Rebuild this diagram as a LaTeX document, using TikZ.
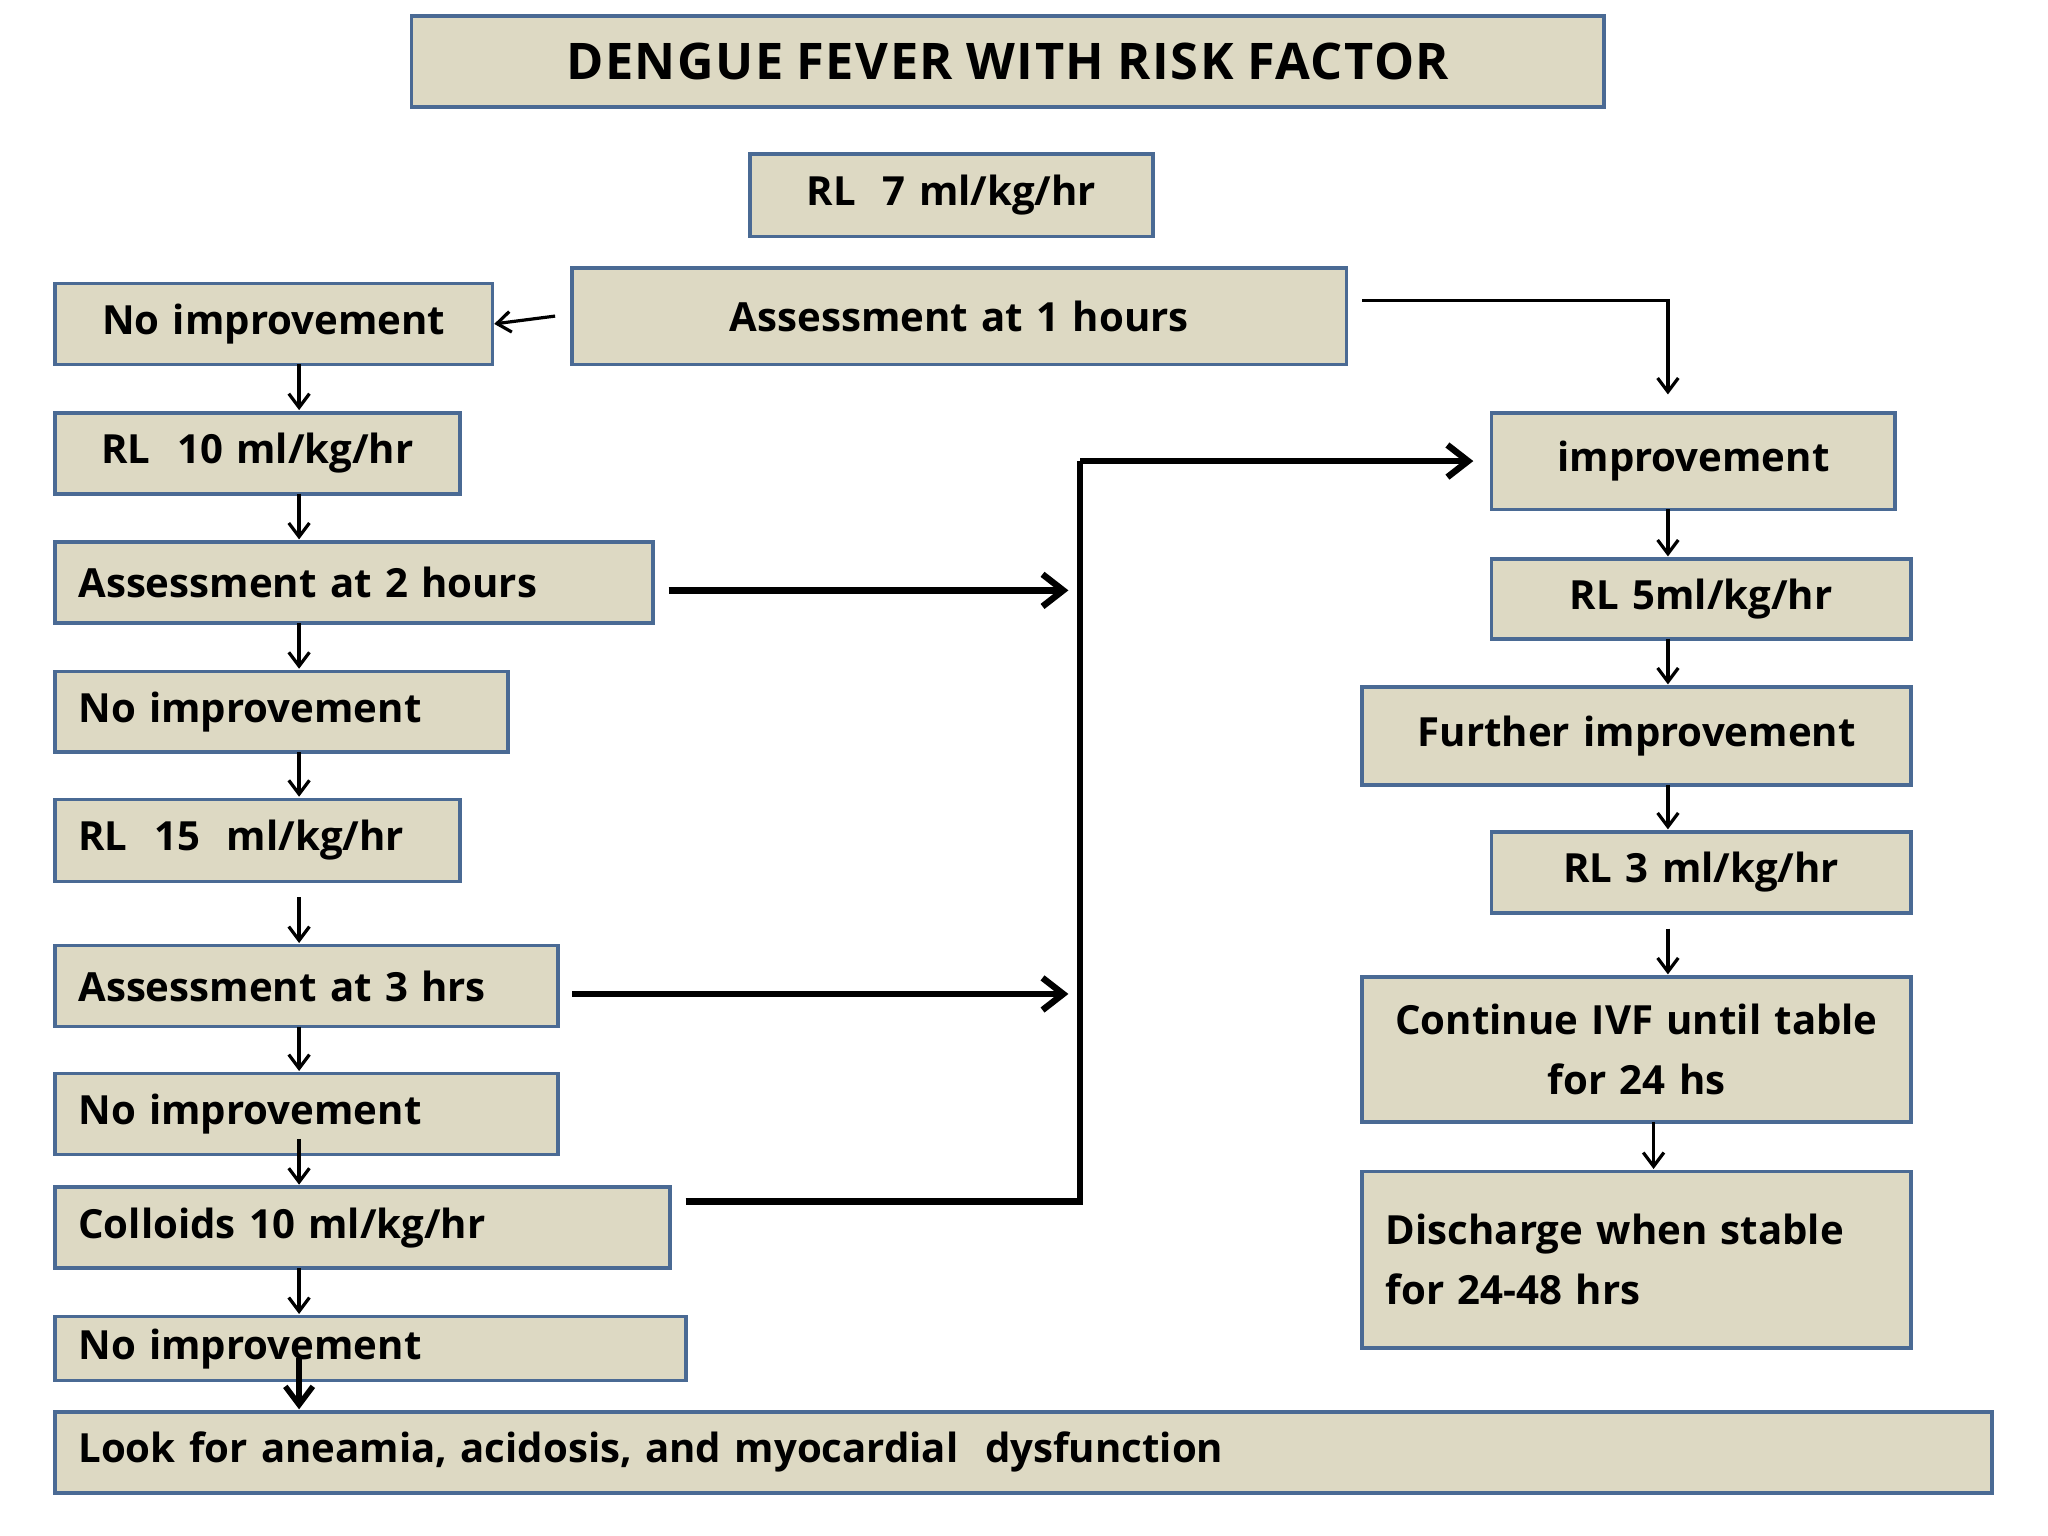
\documentclass[tikz,border=0pt]{standalone}
\usepackage{fontspec}
\setmainfont{Open Sans}
\usetikzlibrary{arrows.meta}
\definecolor{boxfill}{HTML}{DDD9C3}
\definecolor{boxline}{HTML}{4A6A94}
\tikzset{
  box/.style={draw=boxline,line width=1.6pt,fill=boxfill,inner sep=0pt,font=\fontsize{17.5}{26}\selectfont\bfseries},
  thin/.style={line width=1.4pt,-{Straight Barb[length=6pt,width=9pt]}},
  thick/.style={line width=2.8pt,-{Straight Barb[length=9pt,width=14pt]}},
  thickl/.style={line width=2.8pt}
}
% name x1 y1 x2 y2 align text
\newcommand\bx[7]{\node[box,minimum width={(#4-#2)*0.02cm},minimum height={(#5-#3)*0.02cm},text width={(#4-#2-36)*0.02cm},align=#6] (#1) at ({(#2+#4)/2},{-(#3+#5)/2}) {#7};}
\begin{document}
\begin{tikzpicture}[x=0.02cm,y=0.02cm]
\useasboundingbox[fill=white] (0,0) rectangle (1568,-1176);
\bx{title}{315}{12}{1228}{82}{center}{\fontsize{22}{26}\selectfont\addfontfeature{LetterSpace=3}DENGUE FEVER WITH RISK FACTOR}
\bx{rl7}{574}{118}{883}{181}{center}{RL\ \ 7 ml/kg/hr}
\bx{a1}{438}{205}{1031}{279}{center}{Assessment at 1 hours}
\bx{n1}{42}{217}{377}{279}{center}{No improvement}
\bx{rl10}{42}{316}{352}{378}{center}{RL\ \ 10 ml/kg/hr}
\bx{a2}{42}{415}{500}{477}{left}{Assessment at 2 hours}
\bx{n2}{42}{514}{389}{576}{left}{No improvement}
\bx{rl15}{42}{612}{352}{675}{left}{RL\ \ 15\ \ ml/kg/hr}
\bx{a3}{42}{724}{427}{786}{left}{Assessment at 3 hrs}
\bx{n3}{42}{822}{427}{884}{left}{No improvement}
\bx{col}{42}{909}{513}{971}{left}{Colloids 10 ml/kg/hr}
\bx{n4}{42}{1008}{525}{1057}{left}{No improvement}
\bx{look}{42}{1081}{1525}{1143}{left}{Look for aneamia, acidosis, and myocardial\ \ dysfunction}
\bx{imp}{1142}{316}{1451}{390}{center}{improvement}
\bx{rl5}{1142}{428}{1463}{489}{center}{RL 5ml/kg/hr}
\bx{fur}{1043}{526}{1463}{601}{center}{Further improvement}
\bx{rl3}{1142}{637}{1463}{699}{center}{RL 3 ml/kg/hr}
\bx{cont}{1043}{748}{1463}{859}{center}{Continue IVF until table\\for 24 hs}
\bx{dis}{1043}{897}{1463}{1032}{left}{Discharge when stable\\for 24-48 hrs}
% left column arrows
\draw[thin] (229,-279) -- (229,-314);
\draw[thin] (229,-378) -- (229,-413);
\draw[thin] (229,-477) -- (229,-512);
\draw[thin] (229,-576) -- (229,-610);
\draw[thin] (229,-687) -- (229,-722);
\draw[thin] (229,-786) -- (229,-820);
\draw[thin] (229,-872) -- (229,-907);
\draw[thin] (229,-971) -- (229,-1006);
\draw[line width=2.4pt,-{Straight Barb[length=8pt,width=12pt]}] (229,-1040) -- (229,-1079);
\draw[thin] (425,-242) -- (n1.east);
% right column
\coordinate (c1) at (1277,-230);
\draw[thin] (1043,-230) -- (c1) -- (1277,-302);
\draw[thin] (1277,-390) -- (1277,-426);
\draw[thin] (1277,-489) -- (1277,-524);
\draw[thin] (1277,-601) -- (1277,-635);
\draw[thin] (1277,-711) -- (1277,-746);
\draw[thin] (1266,-859) -- (1266,-895);
% thick connectors
\draw[thick] (512,-452) -- (818,-452);
\draw[thick] (438,-761) -- (818,-761);
\coordinate (k1) at (827,-920);
\coordinate (k2) at (827,-353);
\draw[thickl] (525,-920) -- (k1) -- (k2);
\draw[thick] (k2) -- (1128,-353);
\end{tikzpicture}
\end{document}
